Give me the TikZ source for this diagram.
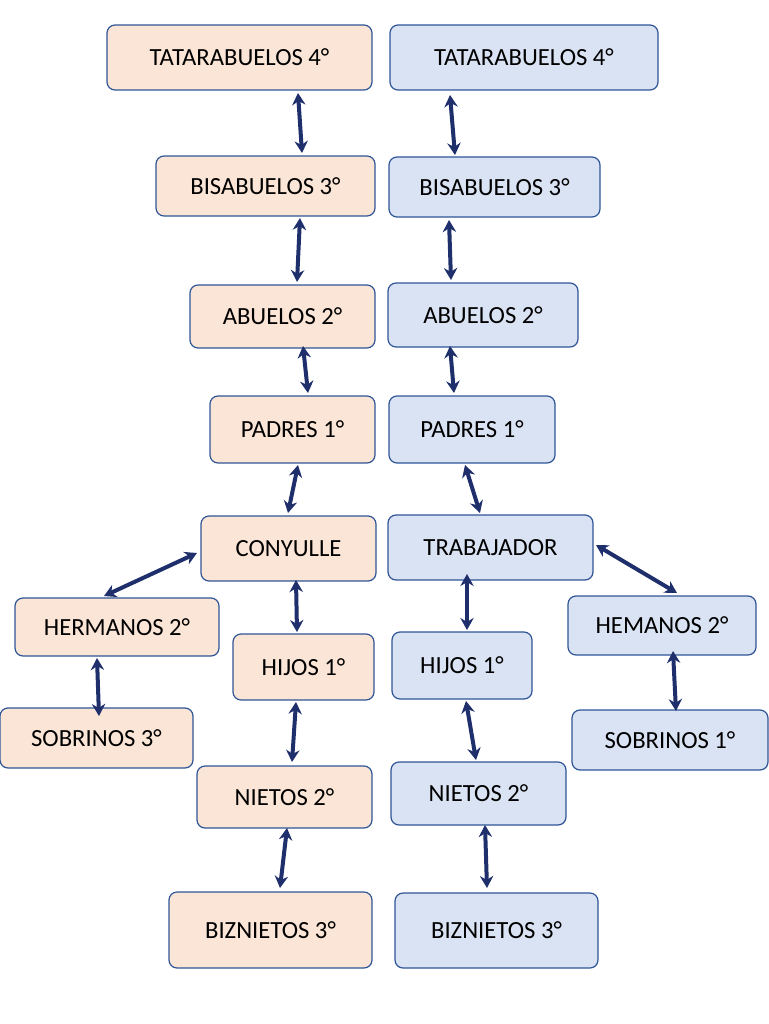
\documentclass[tikz,border=0pt]{standalone}
\usepackage{fontspec}
\setmainfont{Carlito}
\usetikzlibrary{arrows.meta}
\definecolor{peach}{HTML}{FBE5D6}
\definecolor{sky}{HTML}{DAE3F3}
\definecolor{edge}{HTML}{2F5597}
\definecolor{navy}{HTML}{1F2F6B}
\begin{document}
\begin{tikzpicture}[x=0.75pt,y=-0.75pt,
 box/.style={draw=edge,line width=0.9pt,rounded corners=6pt,inner sep=0pt,font=\fontsize{18.5}{20}\selectfont},
 lbox/.style={box,fill=peach},
 rbox/.style={box,fill=sky},
 link/.style={navy,line width=3pt,{Stealth[length=9pt,width=10pt]}-{Stealth[length=9pt,width=10pt]}}]
\useasboundingbox (0,0) rectangle (768,1024);
\newcommand\bx[7]{\node[#1,minimum width={(#5-#3)*0.75pt},minimum height={(#6-#4)*0.75pt}] (#2) at ({(#3+#5)/2},{(#4+#6)/2}) {#7};}
\bx{lbox}{lt}{107}{25}{372}{90}{TATARABUELOS 4°}
\bx{lbox}{lb}{156}{156}{375}{216}{BISABUELOS 3°}
\bx{lbox}{la}{190}{285}{375}{348}{ABUELOS 2°}
\bx{lbox}{lp}{210}{396}{375}{463}{PADRES 1°}
\bx{lbox}{lc}{201}{516}{376}{581}{CONYULLE}
\bx{lbox}{lh}{15}{598}{219}{656}{HERMANOS 2°}
\bx{lbox}{ls}{0}{708}{193}{768}{SOBRINOS 3°}
\bx{lbox}{lj}{233}{634}{374}{700}{HIJOS 1°}
\bx{lbox}{ln}{197}{766}{372}{828}{NIETOS 2°}
\bx{lbox}{lz}{169}{892}{372}{968}{BIZNIETOS 3°}
\bx{rbox}{rt}{390}{25}{658}{90}{TATARABUELOS 4°}
\bx{rbox}{rb}{389}{157}{600}{217}{BISABUELOS 3°}
\bx{rbox}{ra}{388}{283}{578}{347}{ABUELOS 2°}
\bx{rbox}{rp}{389}{396}{555}{463}{PADRES 1°}
\bx{rbox}{rc}{388}{515}{593}{580}{TRABAJADOR}
\bx{rbox}{rh}{568}{596}{756}{655}{HEMANOS 2°}
\bx{rbox}{rs}{572}{710}{768}{770}{SOBRINOS 1°}
\bx{rbox}{rj}{392}{632}{532}{699}{HIJOS 1°}
\bx{rbox}{rn}{391}{762}{566}{825}{NIETOS 2°}
\bx{rbox}{rz}{395}{893}{598}{968}{BIZNIETOS 3°}
\newcommand\ar[6]{\coordinate (#1a) at (#3); \coordinate (#1b) at (#4); \draw[link] (#1a) -- (#1b);}
\ar{a1}{}{298,93}{302,153}{}{}
\ar{a2}{}{300,218}{297,282}{}{}
\ar{a3}{}{303,346}{308,393}{}{}
\ar{a4}{}{298,465}{288,513}{}{}
\ar{a5}{}{197,553}{104,596}{}{}
\ar{a6}{}{296,580}{297,632}{}{}
\ar{a7}{}{97,658}{99,716}{}{}
\ar{a8}{}{296,702}{292,762}{}{}
\ar{a9}{}{287,828}{280,888}{}{}
\ar{b1}{}{450,95}{455,155}{}{}
\ar{b2}{}{449,220}{451,280}{}{}
\ar{b3}{}{450,346}{454,393}{}{}
\ar{b4}{}{465,465}{480,513}{}{}
\ar{b5}{}{596,545}{677,593}{}{}
\ar{b6}{}{467,574}{467,630}{}{}
\ar{b7}{}{673,651}{676,711}{}{}
\ar{b8}{}{466,701}{476,760}{}{}
\ar{b9}{}{485,825}{487,888}{}{}
\end{tikzpicture}
\end{document}
